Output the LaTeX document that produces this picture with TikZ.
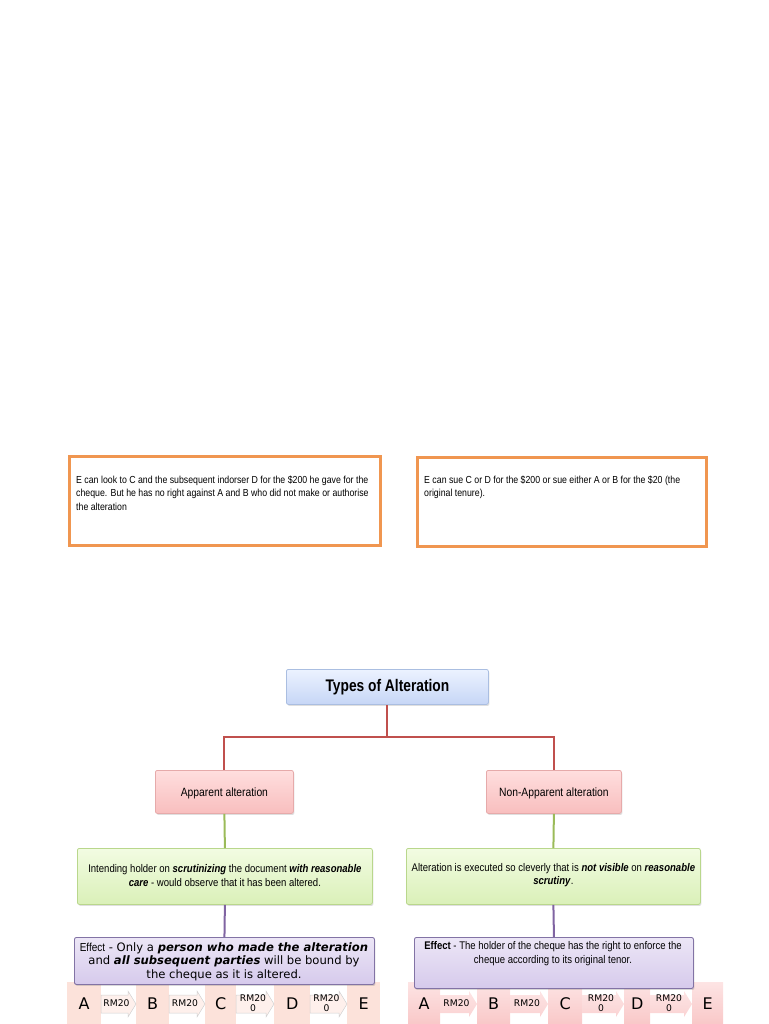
\documentclass[tikz,border=0pt]{standalone}
\usepackage{fontspec}
\setmainfont{Liberation Sans}
\newfontfamily\narrowf[FakeStretch=0.86]{Liberation Sans}
\newfontfamily\titlef[FakeStretch=0.82]{Liberation Sans}
\newfontfamily\dvf{DejaVu Sans}
\usetikzlibrary{shadows}
\definecolor{orangeb}{RGB}{240,150,80}
\definecolor{redline}{RGB}{192,80,77}
\definecolor{greenline}{RGB}{155,187,89}
\definecolor{purpline}{RGB}{128,100,162}
\definecolor{bluetop}{RGB}{236,242,255}
\definecolor{bluebot}{RGB}{198,214,246}
\definecolor{blueborder}{RGB}{170,190,225}
\definecolor{pinktop}{RGB}{255,222,222}
\definecolor{pinkbot}{RGB}{248,190,190}
\definecolor{pinkborder}{RGB}{230,170,170}
\definecolor{greentop}{RGB}{242,252,226}
\definecolor{greenbot}{RGB}{218,240,184}
\definecolor{greenborder}{RGB}{185,215,140}
\definecolor{purptop}{RGB}{236,230,246}
\definecolor{purpbot}{RGB}{214,202,236}
\definecolor{purpborder}{RGB}{130,115,165}
\definecolor{paleA}{RGB}{252,226,218}
\definecolor{paleB}{RGB}{254,240,236}
\definecolor{rosyA}{RGB}{249,200,200}
\definecolor{rosyB}{RGB}{253,228,228}
\newcommand\chevron[5]{%
  \path[#5] (#1,995) -- (#2-8,995) -- (#2-8,991) -- (#2,1004) -- (#2-8,1017) -- (#2-8,1013) -- (#1,1013) -- cycle;
  \node[rmtext] (#3) at ({(#1+#2)/2-2},1003) {#4};}
\begin{document}
\begin{tikzpicture}[x=1pt,y=-1pt,
  orangebox/.style={draw=orangeb,line width=2.6pt,fill=white,anchor=north west,inner sep=0pt},
  notetext/.style={anchor=north west,align=left,inner sep=0pt,font=\narrowf\fontsize{10.2}{13.6}\selectfont},
  topbox/.style={draw=blueborder,line width=0.8pt,top color=bluetop,bottom color=bluebot,rounded corners=2pt,anchor=north west,inner sep=0pt,
    drop shadow={opacity=0.25,shadow xshift=1pt,shadow yshift=-1.5pt}},
  pinkbox/.style={draw=pinkborder,line width=0.8pt,top color=pinktop,bottom color=pinkbot,rounded corners=2pt,anchor=north west,inner sep=0pt,
    drop shadow={opacity=0.25,shadow xshift=1pt,shadow yshift=-1.5pt}},
  greenbox/.style={draw=greenborder,line width=0.8pt,top color=greentop,bottom color=greenbot,rounded corners=2pt,anchor=north west,inner sep=0pt,
    drop shadow={opacity=0.25,shadow xshift=1pt,shadow yshift=-1.5pt}},
  purpbox/.style={draw=purpborder,line width=0.9pt,top color=purptop,bottom color=purpbot,rounded corners=2pt,anchor=north west,inner sep=0pt,
    drop shadow={opacity=0.3,shadow xshift=1pt,shadow yshift=-1.5pt}},
  boxtext/.style={align=center,inner sep=0pt,font=\narrowf\fontsize{11.1}{13.4}\selectfont},
  pinktext/.style={align=center,inner sep=0pt,font=\narrowf\fontsize{12}{14}\selectfont},
  letterL/.style={fill=paleA,anchor=north west,inner sep=0pt},
  letterR/.style={top color=rosyB,bottom color=rosyA,anchor=north west,inner sep=0pt},
  lettertext/.style={inner sep=0pt,font=\dvf\fontsize{16}{16}\selectfont},
  chevL/.style={fill=paleB,draw=black!18,line width=0.5pt},
  chevR/.style={top color=rosyB,bottom color=rosyA!80,draw=none},
  rmtext/.style={inner sep=0pt,align=center,font=\dvf\fontsize{9.2}{9.5}\selectfont},
  conn/.style={line width=2pt}
]
\useasboundingbox (0,0) rectangle (768,1024);

% orange note boxes
\node[orangebox,minimum width=311,minimum height=89] (o1) at (68,455) {};
\node[notetext] (o1t) at (76,475.5) {E can look to C and the subsequent indorser D for the \$200 he gave for the\\cheque. But he has no right against A and B who did not make or authorise\\the alteration};
\node[orangebox,minimum width=289,minimum height=89] (o2) at (416,456) {};
\node[notetext] (o2t) at (424,475.5) {E can sue C or D for the \$200 or sue either A or B for the \$20 (the\\original tenure).};

% hierarchy
\node[topbox,minimum width=202,minimum height=35] (types) at (286,669) {};
\node[inner sep=0pt,font=\titlef\bfseries\fontsize{16.8}{18}\selectfont] (typest) at (types.center) {Types of Alteration};

\node[pinkbox,minimum width=138,minimum height=43] (app) at (155,770) {};
\node[pinktext] (appt) at ([yshift=-1.5pt]app.center) {Apparent alteration};
\node[pinkbox,minimum width=135,minimum height=43] (nap) at (486,770) {};
\node[pinktext] (napt) at ([yshift=-1.5pt]nap.center) {Non-Apparent alteration};

\draw[conn,redline] (types.south) -- ++(0,32) coordinate (mid) -| (app.north);
\draw[conn,redline] (mid) -| (nap.north);

\node[greenbox,minimum width=295,minimum height=56] (g1) at (77,848) {};
\node[boxtext] (g1t) at ([yshift=1pt]g1.center) {Intending holder on \textbf{\textit{scrutinizing}} the document \textbf{\textit{with reasonable}}\\\textbf{\textit{care}} - would observe that it has been altered.};
\node[greenbox,minimum width=294,minimum height=56] (g2) at (406,848) {};
\node[boxtext] (g2t) at ([yshift=1pt]g2.center) {Alteration is executed so cleverly that is \textbf{\textit{not visible}} on \textbf{\textit{reasonable}}\\\textbf{\textit{scrutiny}}.};

\draw[conn,greenline] (app.south) -- (g1.north);
\draw[conn,greenline] (nap.south) -- (g2.north);

% bottom rows (left)
\node[letterL,minimum width=34,minimum height=42] (la) at (67,982) {};
\node[letterL,minimum width=33,minimum height=42] (lb) at (136,982) {};
\node[letterL,minimum width=31,minimum height=42] (lc) at (205,982) {};
\node[letterL,minimum width=36,minimum height=42] (ld) at (274,982) {};
\node[letterL,minimum width=33,minimum height=42] (le) at (347,982) {};
\node[lettertext] at (la.center |- 0,1004) (lat) {A};
\node[lettertext] at (lb.center |- 0,1004) (lbt) {B};
\node[lettertext] at (lc.center |- 0,1004) (lct) {C};
\node[lettertext] at (ld.center |- 0,1004) (ldt) {D};
\node[lettertext] at (le.center |- 0,1004) (let) {E};

\chevron{101}{136}{lr1}{RM20}{chevL}
\chevron{169}{205}{lr2}{RM20}{chevL}
\chevron{236}{274}{lr3}{RM20\\0}{chevL}
\chevron{310}{347}{lr4}{RM20\\0}{chevL}

% bottom rows (right)
\node[letterR,minimum width=32,minimum height=42] (ra) at (408,982) {};
\node[letterR,minimum width=33,minimum height=42] (rb) at (477,982) {};
\node[letterR,minimum width=34,minimum height=42] (rc) at (548,982) {};
\node[letterR,minimum width=26,minimum height=42] (rd) at (624,982) {};
\node[letterR,minimum width=31,minimum height=42] (re) at (692,982) {};
\node[lettertext] at (ra.center |- 0,1004) (rat) {A};
\node[lettertext] at (rb.center |- 0,1004) (rbt) {B};
\node[lettertext] at (rc.center |- 0,1004) (rct) {C};
\node[lettertext] at (rd.center |- 0,1004) (rdt) {D};
\node[lettertext] at (re.center |- 0,1004) (ret) {E};
\chevron{440}{477}{rr1}{RM20}{chevR}
\chevron{510}{548}{rr2}{RM20}{chevR}
\chevron{582}{624}{rr3}{RM20\\0}{chevR}
\chevron{650}{692}{rr4}{RM20\\0}{chevR}

% effect boxes
\node[purpbox,minimum width=300,minimum height=47] (p1) at (74,937) {};
\node[inner sep=0pt,align=center,font=\dvf\fontsize{11.6}{13.4}\selectfont] (p1t) at (224,961.5)
  {{\narrowf Effect} - Only a \textbf{\textit{person who made the alteration}}\\and \textbf{\textit{all subsequent parties}} will be bound by\\the cheque as it is altered.};
\node[purpbox,minimum width=279,minimum height=51] (p2) at (414,937) {};
\node[boxtext] (p2t) at (553,953.5) {\textbf{Effect} - The holder of the cheque has the right to enforce the\\cheque according to its original tenor.};

\draw[conn,purpline] (g1.south) -- (p1.north);
\draw[conn,purpline] (g2.south) -- (p2.north);
\end{tikzpicture}
\end{document}
